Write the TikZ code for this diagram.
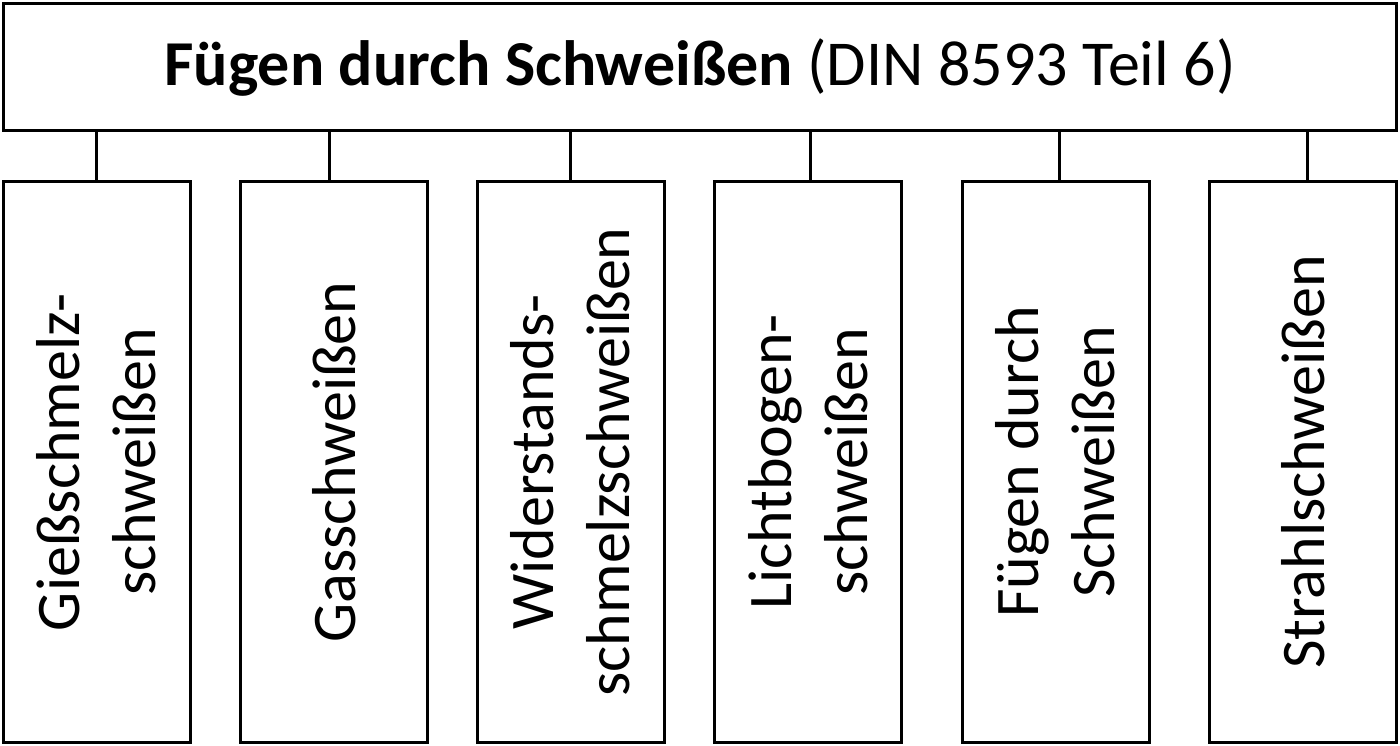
\documentclass[tikz,border=0pt]{standalone}
\usepackage{fontspec}
\setmainfont{Carlito}
\begin{document}
\begin{tikzpicture}[x=1pt,y=-1pt,
  frame/.style={draw=black,line width=3pt,fill=white,inner sep=0pt},
  kid/.style={frame,minimum width=187pt,minimum height=561pt},
  lab/.style={rotate=90,align=center,inner sep=0pt,font=\fontsize{62}{76}\selectfont},
  link/.style={draw=black,line width=3pt}]
\useasboundingbox (0,0) rectangle (1400,746);
\node[frame,minimum width=1393pt,minimum height=127pt] (top) at (700,67) {};
\node[inner sep=0pt,anchor=base,font=\fontsize{64}{76}\selectfont] (title) at (700,86) {\textbf{Fügen durch Schweißen} (DIN 8593 Teil 6)};
\foreach \i/\cx/\lx/\t in {1/96.5/96/{Gießschmelz-\\schweißen},2/334/329/{Gasschweißen},3/570.5/570/{Widerstands-\\schmelzschweißen},4/808/810/{Lichtbogen-\\schweißen},5/1055.5/1059/{Fügen durch\\Schweißen},6/1303/1307/{Strahlschweißen}}{
  \node[kid] (b\i) at (\cx,462) {};
  \node[lab] (t\i) at (b\i.center) {\t};
  \coordinate (c\i) at (\lx,0);
  \draw[link] (c\i |- top.south) -- (c\i |- b\i.north);
}
\end{tikzpicture}
\end{document}
